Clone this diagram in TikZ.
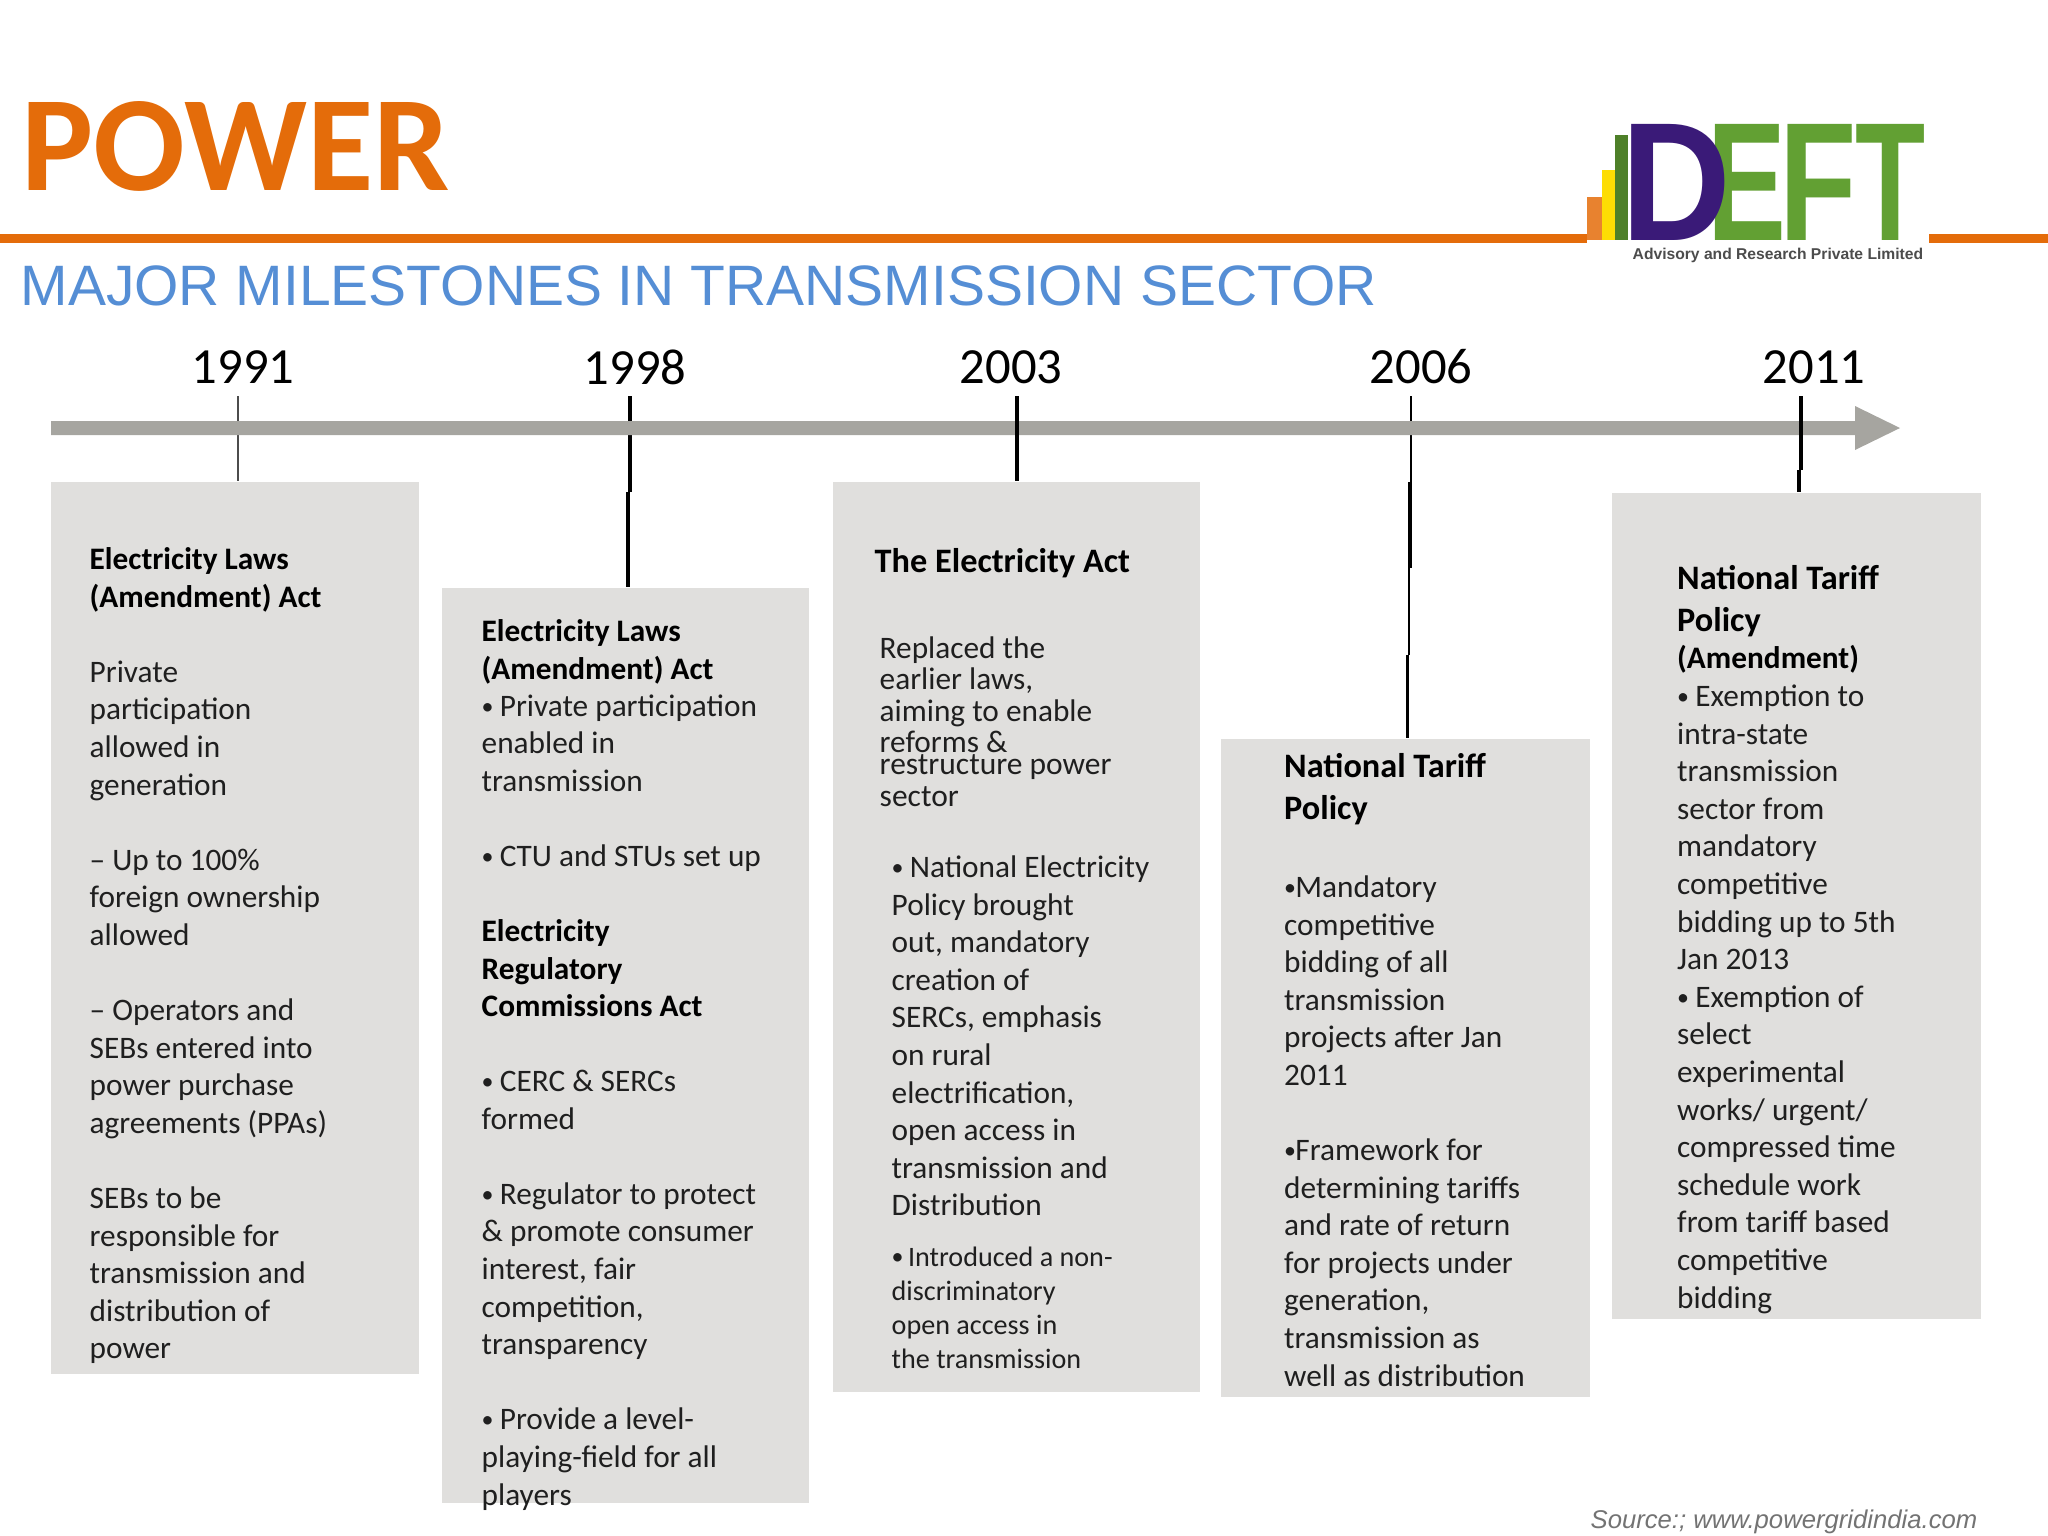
\documentclass[tikz,border=0pt]{standalone}
\usepackage{fontspec}
\setmainfont{Carlito}
\newfontfamily\arialfont{Liberation Sans}
\definecolor{deftorange}{HTML}{E46C0A}
\definecolor{deftblue}{HTML}{558ED5}
\definecolor{deftpurple}{HTML}{3A1A78}
\definecolor{deftgreen}{HTML}{62A033}
\definecolor{boxgrey}{HTML}{E0DFDD}
\definecolor{bargrey}{HTML}{A6A5A0}
\newcommand{\bul}{\makebox[0.58em][l]{\raisebox{0.07em}{\fontsize{6.8}{8}\selectfont •}}}
\newcommand{\tightbul}{\makebox[0.36em][l]{\raisebox{0.07em}{\fontsize{6.8}{8}\selectfont •}}}
\tikzset{
    panel/.style={fill=boxgrey,anchor=north west,inner sep=0pt},
    body/.style={anchor=north west,inner sep=0pt,align=left,text=black!88,font=\fontsize{8.9}{10.69}\selectfont},
    boldbody/.style={body,text=black,font=\bfseries\fontsize{8.9}{10.69}\selectfont},
    head/.style={anchor=north west,inner sep=0pt,align=left,text=black,font=\bfseries\fontsize{9.75}{11.9}\selectfont},
    year/.style={font=\fontsize{14.4}{16}\selectfont},
    tick/.style={black,line width=1pt},
    logoletter/.style={anchor=base west,inner sep=0pt,font=\arialfont\bfseries\fontsize{48}{50}\selectfont},
}
\begin{document}
\begin{tikzpicture}[x=0.01cm,y=-0.01cm]
    \useasboundingbox (0,0) rectangle (2048,1536);
    % Title
    \node[anchor=base west,inner sep=0pt,text=deftorange,font=\bfseries\fontsize{38.6}{40}\selectfont] (title) at (21,190.5) {POWER};
    \fill[deftorange] (0,234) rectangle (2048,243);
    \node[anchor=base west,inner sep=0pt,text=deftblue,font=\arialfont\fontsize{16.2}{20}\selectfont] (subtitle) at (20,305) {MAJOR MILESTONES IN TRANSMISSION SECTOR};
    % Logo
    \fill[white] (1587,118) rectangle (1929,268);
    \fill[deftorange!85] (1587,197) rectangle (1602,240);
    \fill[yellow!80!orange] (1602,170) rectangle (1615,240);
    \fill[deftgreen!80!black] (1615,135) rectangle (1628,240);
    \node[logoletter,text=deftgreen] (logoe) at (1707,240) {\scalebox{.7}[1]{E}};
    \node[logoletter,text=deftgreen] (logof) at (1779,240) {\scalebox{.75}[1]{F}};
    \node[logoletter,text=deftgreen] (logot) at (1855,240) {\scalebox{.68}[1]{T}};
    \node[logoletter,text=deftpurple] (logod) at (1621,240) {\scalebox{.9}[1]{D}};
    \node[anchor=base west,inner sep=0pt,text=black!70,font=\arialfont\bfseries\fontsize{4.45}{5}\selectfont] (logosub) at (1632,259) {Advisory and Research Private Limited};
    % Years
    \node[year] (y1991) at (243,367) {1991};
    \node[year] (y1998) at (635,367) {1998};
    \node[year] (y2003) at (1011,367) {2003};
    \node[year] (y2006) at (1421,367) {2006};
    \node[year] (y2011) at (1814,367) {2011};
    % Boxes
    \node[panel,minimum width=368*0.01cm,minimum height=892*0.01cm] (box1) at (50,481) {};
    \node[panel,minimum width=367*0.01cm,minimum height=915*0.01cm] (box2) at (441,587) {};
    \node[panel,minimum width=367*0.01cm,minimum height=910*0.01cm] (box3) at (832,481) {};
    \node[panel,minimum width=369*0.01cm,minimum height=658*0.01cm] (box4) at (1220,738) {};
    \node[panel,minimum width=369*0.01cm,minimum height=826*0.01cm] (box5) at (1611,492) {};
    % Ticks behind the bar
    \draw[black!70,line width=0.5pt] (238,396) -- (box1.north -| 238,0);
    \draw[tick] (630,396) -- (630,492);
    \draw[tick] (628,492) -- (box2.north -| 628,0);
    \draw[tick,line width=0.8pt] (1411,396) -- (1411,482);
    \draw[tick] (1410,482) -- (1410,568);
    \draw[tick,line width=0.8pt] (1409,568) -- (1409,655);
    \draw[tick] (1407.5,655) -- (box4.north -| 1407.5,0);
    % Axis
    \coordinate (axisstart) at (51,428);
    \coordinate (axisend) at (1900,428);
    \fill[bargrey] (axisstart) ++(0,-7) -- ++(1804,0) -- ++(0,-15) -- (axisend) -- (1855,450) -- (1855,435) -- (51,435) -- cycle;
    % Ticks over the bar
    \draw[tick,line width=1.1pt] (1017,396) -- (box3.north -| 1017,0);
    \draw[tick,line width=1.1pt] (1801,396) -- (1801,470);
    \draw[tick,line width=1.1pt] (1799,470) -- (box5.north -| 1799,0);
    % Text
    \node[boldbody] (t1a) at (89,547) {Electricity Laws\\(Amendment) Act};
    \node[body] (t1b) at (89,660) {Private\\participation\\allowed in\\generation\\[10.69pt]-- Up to 100\%\\foreign ownership\\allowed\\[10.69pt]-- Operators and\\SEBs entered into\\power purchase\\agreements (PPAs)\\[10.69pt]SEBs to be\\responsible for\\transmission and\\distribution of\\power};
    \node[boldbody] (t2a) at (481,619) {Electricity Laws\\(Amendment) Act};
    \node[body] (t2b) at (481,694) {\bul Private participation\\enabled in\\transmission\\[10.69pt]\bul CTU and STUs set up};
    \node[boldbody] (t2c) at (481,919) {Electricity\\Regulatory\\Commissions Act};
    \node[body] (t2d) at (481,1069.5) {\bul CERC \& SERCs\\formed\\[10.69pt]\bul Regulator to protect\\\& promote consumer\\interest, fair\\competition,\\transparency\\[10.69pt]\bul Provide a level-\\playing-field for all\\players};
    \node[head] (t3a) at (874,548) {The Electricity Act};
    \node[body,font=\fontsize{8.9}{8.95}\selectfont] (t3b) at (879,636) {Replaced the\\earlier laws,\\aiming to enable\\reforms \&};
    \node[body,font=\fontsize{8.95}{8.95}\selectfont] (t3c) at (879,754) {restructure power\\sector};
    \node[body] (t3d) at (891,855) {\bul National Electricity\\Policy brought\\out, mandatory\\creation of\\SERCs, emphasis\\on rural\\electrification,\\open access in\\transmission and\\Distribution};
    \node[body,font=\fontsize{8}{9.65}\selectfont] (t3e) at (891,1246) {\bul Introduced a non-\\discriminatory\\open access in\\the transmission};
    \node[head] (t4a) at (1283.5,753) {National Tariff\\Policy};
    \node[body] (t4b) at (1283.5,875) {\tightbul Mandatory\\competitive\\bidding of all\\transmission\\projects after Jan\\2011\\[10.69pt]\tightbul Framework for\\determining tariffs\\and rate of return\\for projects under\\generation,\\transmission as\\well as distribution};
    \node[head] (t5a) at (1676.5,565) {National Tariff\\Policy};
    \node[body] (t5b) at (1676.5,645) {\textbf{\textcolor{black}{(Amendment)}}\\\bul Exemption to\\intra-state\\transmission\\sector from\\mandatory\\competitive\\bidding up to 5th\\Jan 2013\\\bul Exemption of\\select\\experimental\\works/ urgent/\\compressed time\\schedule work\\from tariff based\\competitive\\bidding};
    % Source
    \node[anchor=base east,inner sep=0pt,text=black!55,font=\arialfont\itshape\fontsize{7.3}{9}\selectfont] (source) at (1978,1528) {Source:; www.powergridindia.com};
\end{tikzpicture}
\end{document}
